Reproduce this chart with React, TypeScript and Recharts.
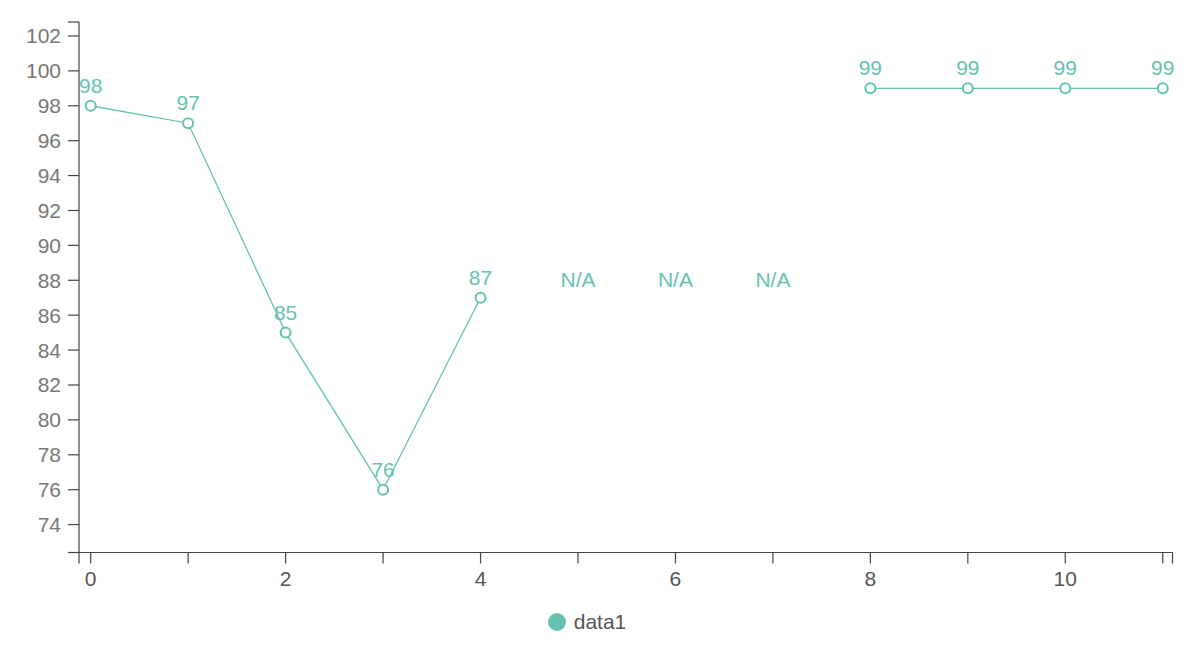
import React from 'react';
import { LineChart, Line, XAxis, YAxis, LabelList, Legend } from 'recharts';

const xValues = [0, 1, 2, 3, 4, 5, 6, 7, 8, 9, 10, 11];
const data1Values: (number | null)[] = [98, 97, 85, 76, 87, null, null, null, 99, 99, 99, 99];
const xTickLabels = [0, 2, 4, 6, 8, 10];
const yTickLabels = [74, 76, 78, 80, 82, 84, 86, 88, 90, 92, 94, 96, 98, 100, 102];
const xDomain: [number, number] = [-0.12, 11.1];
const yDomain: [number, number] = [72.4, 102.8];

const chartData = xValues.map((x, i) => ({ x, data1: data1Values[i] }));

const W = 1184;
const H = 654;
const TOP = 22;
const BOTTOM = 552.5;
const PLOT_MID = (TOP + BOTTOM) / 2;
const TEAL = '#66c2b0';
const FONT = '"Liberation Sans", Arial, sans-serif';
const FS = 21;

const renderLabel = (props: any) => {
  const vb = props.viewBox || {};
  const x = props.x ?? vb.x;
  const y = props.y ?? vb.y;
  if (x == null || Number.isNaN(x)) return null;
  if (props.value == null) {
    return (
      <text x={x} y={PLOT_MID} textAnchor="middle" fill={TEAL} fontSize={FS} fontFamily={FONT}>
        N/A
      </text>
    );
  }
  return (
    <text x={x} y={y - 13} textAnchor="middle" fill={TEAL} fontSize={FS} fontFamily={FONT}>
      {props.value}
    </text>
  );
};

const renderLegend = () => (
  <div style={{ display: 'flex', justifyContent: 'center', alignItems: 'center', fontFamily: FONT, fontSize: FS, color: '#555' }}>
    <svg width={18} height={18} style={{ marginRight: 8, marginLeft: -10 }}>
      <circle cx={9} cy={9} r={9} fill={TEAL} />
    </svg>
    <span>data1</span>
  </div>
);

const xFmt = (v: number) => (xTickLabels.includes(v) ? String(v) : '');
const yFmt = (v: number) => (yTickLabels.includes(v) ? String(v) : '');

export default function App() {
  return (
    <div style={{ position: 'absolute', left: 0, top: 0, width: W, height: H, background: '#fff' }}>
      <LineChart width={W} height={H} data={chartData} margin={{ top: TOP, right: W - 1172.5, left: 0, bottom: H - BOTTOM - 60 }}>
        <XAxis
          dataKey="x"
          type="number"
          domain={xDomain}
          allowDataOverflow
          ticks={[xDomain[0], ...xValues, xDomain[1]]}
          interval={0}
          tickFormatter={xFmt}
          height={60}
          tickSize={11}
          tickMargin={8}
          stroke="#444"
          tick={{ fill: '#555', fontSize: FS, fontFamily: FONT }}
          axisLine={{ stroke: '#444', strokeWidth: 1.2 }}
          tickLine={{ stroke: '#444', strokeWidth: 1.2 }}
        />
        <YAxis
          type="number"
          domain={yDomain}
          allowDataOverflow
          ticks={[yDomain[0], ...yTickLabels, yDomain[1]]}
          interval={0}
          tickFormatter={yFmt}
          width={79}
          tickSize={11}
          tickMargin={7}
          stroke="#444"
          tick={{ fill: '#777', fontSize: FS, fontFamily: FONT }}
          axisLine={{ stroke: '#444', strokeWidth: 1.2 }}
          tickLine={{ stroke: '#444', strokeWidth: 1.2 }}
        />
        <Legend
          layout="horizontal"
          verticalAlign="middle"
          align="center"
          content={renderLegend}
          wrapperStyle={{ position: 'absolute', top: 610, left: 0, width: W, height: 24 }}
        />
        <Line
          dataKey="data1"
          name="data1"
          stroke={TEAL}
          strokeWidth={1.3}
          dot={{ r: 5, fill: '#fff', stroke: TEAL, strokeWidth: 2 }}
          activeDot={false}
          isAnimationActive={false}
        >
          <LabelList dataKey="data1" content={renderLabel} />
        </Line>
      </LineChart>
    </div>
  );
}
